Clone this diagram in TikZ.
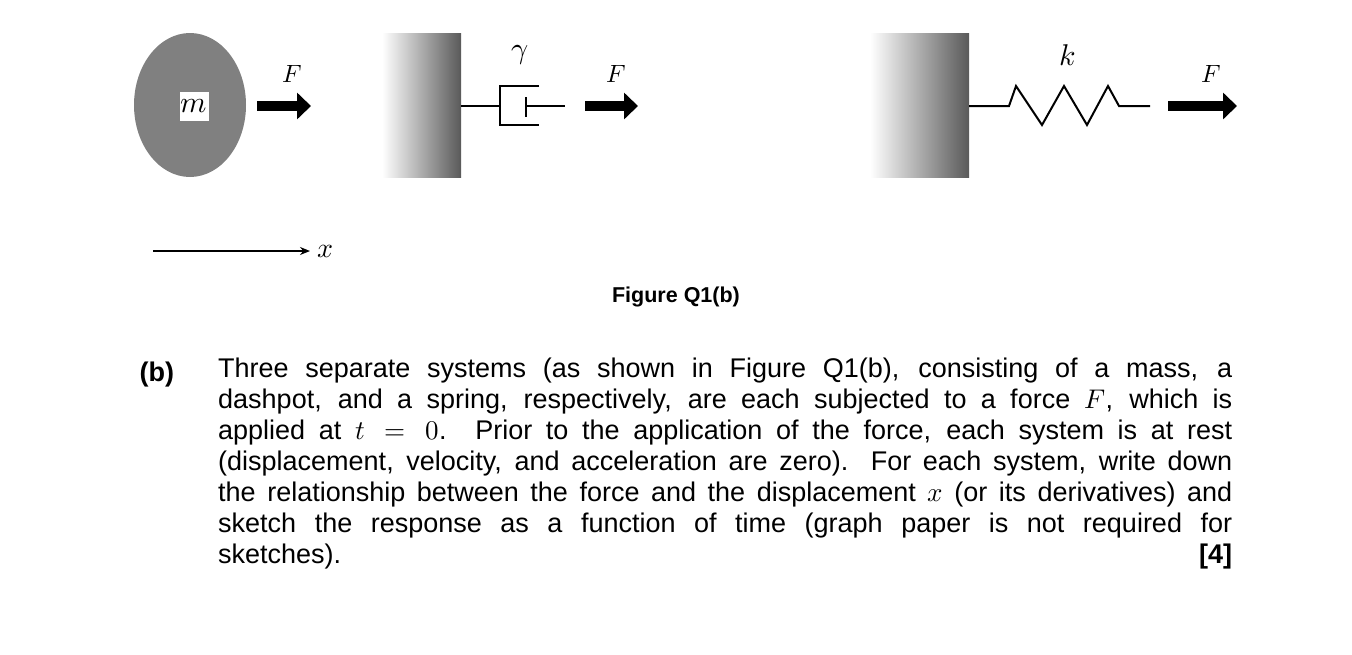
\documentclass[tikz,border=0pt]{standalone}
\usepackage{fontspec}
\usepackage{unicode-math}
\setmainfont{Liberation Sans}
\setmathfont{Latin Modern Math}
\usetikzlibrary{arrows.meta}
\begin{document}
\begin{tikzpicture}[x=1pt,y=-1pt,
  force/.style={line width=10pt,-{Triangle[length=14pt,width=26pt]}},
  wall/.style={left color=white,right color=black!65,draw=none},
  mech/.style={line width=2pt},
  lab/.style={font=\fontsize{25}{25}\selectfont}]
\useasboundingbox (0,0) rectangle (1352,654);
% mass
\fill[black!50] (190,105) ellipse [x radius=56,y radius=72];
\node[fill=white,inner sep=0pt,minimum width=29pt,minimum height=29pt,font=\fontsize{30}{30}\selectfont] (m) at (194,106) {$m$};
\coordinate (a1s) at (257,106); \coordinate (a1e) at (311,106);
\draw[force] (a1s) -- (a1e);
\node[lab] (F1) at (292,74) {$F$};
% dashpot
\fill[wall] (382,33) rectangle (461,177);
\coordinate (d0) at (461,106); \coordinate (d1) at (500,106);
\draw[mech] (d0) -- (d1);
\draw[mech] (539,86) -- (500,86) -- (500,125) -- (539,125);
\draw[mech] (526,97) -- (526,117);
\draw[mech] (526,106) -- (565,106);
\node[font=\fontsize{30}{30}\selectfont] (g) at (520,55) {$\gamma$};
\coordinate (a2s) at (585,106); \coordinate (a2e) at (638,106);
\draw[force] (a2s) -- (a2e);
\node[lab] (F2) at (616,74) {$F$};
% spring
\fill[wall] (870,33) rectangle (969,177);
\draw[mech,line join=miter] (969,106) -- (1009,106) -- (1016,86) -- (1042,125) -- (1064,86) -- (1087,125) -- (1108,86) -- (1119,106) -- (1150,106);
\node[font=\fontsize{30}{30}\selectfont] (k) at (1068,55) {$k$};
\coordinate (a3s) at (1168,106); \coordinate (a3e) at (1237,106);
\draw[force] (a3s) -- (a3e);
\node[lab] (F3) at (1211,74) {$F$};
% x axis
\coordinate (xs) at (153,251); \coordinate (xe) at (310,251);
\draw[line width=1.5pt,-{Stealth[length=10pt,width=8pt]}] (xs) -- (xe);
\node[font=\fontsize{28}{28}\selectfont] (xl) at (326,251) {$x$};
% caption
\node[font=\bfseries\fontsize{21.5}{21.5}\selectfont] (cap) at (676,297) {Figure Q1(b)};
% text
\node[font=\bfseries\fontsize{27}{27}\selectfont,anchor=base west] (b) at (136,381) {(b)};
\node[anchor=north west,inner sep=0pt,text width=1014pt,align=justify,
  font=\fontsize{27}{31}\selectfont] (txt) at (218,358) {\hyphenpenalty=10000 Three separate systems (as shown in Figure Q1(b), consisting of a mass, a\linebreak dashpot, and a spring, respectively, are each subjected to a force $F$, which is\linebreak applied at $t=0$. Prior to the application of the force, each system is at rest\linebreak (displacement, velocity, and acceleration are zero). For each system, write down\linebreak the relationship between the force and the displacement $x$ (or its derivatives) and\linebreak sketch the response as a function of time (graph paper is not required for\linebreak sketches).\hfill\textbf{[4]}};
\end{tikzpicture}
\end{document}
